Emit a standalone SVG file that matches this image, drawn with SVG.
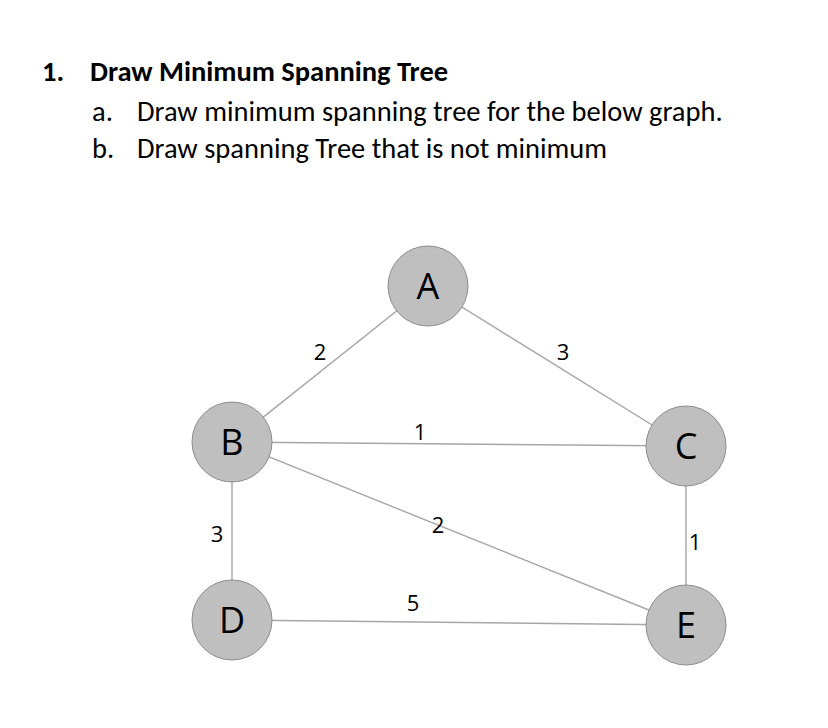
<svg xmlns="http://www.w3.org/2000/svg" width="828" height="728" viewBox="0 0 828 728">
<style>
.t{font-family:Carlito,"Liberation Sans",sans-serif;font-size:28.5px;fill:#000}
.n circle{fill:#bfbfbf;stroke:#8c8c8c;stroke-width:1}
.n text{font-family:"Open Sans","Liberation Sans",sans-serif;font-size:36px;text-anchor:middle;fill:#000}
.e line{stroke:#a6a6a6;stroke-width:1.4}
.w{font-family:"Open Sans","Liberation Sans",sans-serif;font-size:22px;fill:#000;text-anchor:middle}
</style>
<rect width="828" height="728" fill="#fff"/>
<text class="t" x="42" y="81" font-weight="bold">1.</text>
<text class="t" x="90" y="81" font-weight="bold">Draw Minimum Spanning Tree</text>
<text class="t" x="92" y="121">a.</text>
<text class="t" x="137" y="121">Draw minimum spanning tree for the below graph.</text>
<text class="t" x="92" y="158">b.</text>
<text class="t" x="137" y="158">Draw spanning Tree that is not minimum</text>
<g id="edges" class="e">
<line x1="428" y1="286" x2="232" y2="442"/>
<line x1="428" y1="286" x2="686" y2="446"/>
<line x1="232" y1="442" x2="686" y2="446"/>
<line x1="232" y1="442" x2="686" y2="625"/>
<line x1="232" y1="442" x2="232" y2="620"/>
<line x1="686" y1="446" x2="686" y2="625"/>
<line x1="232" y1="620" x2="686" y2="625"/>
</g>
<g id="labels">
<text class="w" x="320" y="360">2</text>
<text class="w" x="563" y="360">3</text>
<text class="w" x="420" y="440">1</text>
<text class="w" x="438" y="533">2</text>
<text class="w" x="217" y="542">3</text>
<text class="w" x="695" y="550">1</text>
<text class="w" x="413" y="611">5</text>
</g>
<g id="A" class="n"><circle cx="428" cy="286" r="40"/><text x="428" y="299">A</text></g>
<g id="B" class="n"><circle cx="232" cy="442" r="40"/><text x="232" y="455">B</text></g>
<g id="C" class="n"><circle cx="686" cy="446" r="40"/><text x="686" y="459">C</text></g>
<g id="D" class="n"><circle cx="232" cy="620" r="40"/><text x="232" y="633">D</text></g>
<g id="E" class="n"><circle cx="686" cy="625" r="40"/><text x="686" y="638">E</text></g>
</svg>
